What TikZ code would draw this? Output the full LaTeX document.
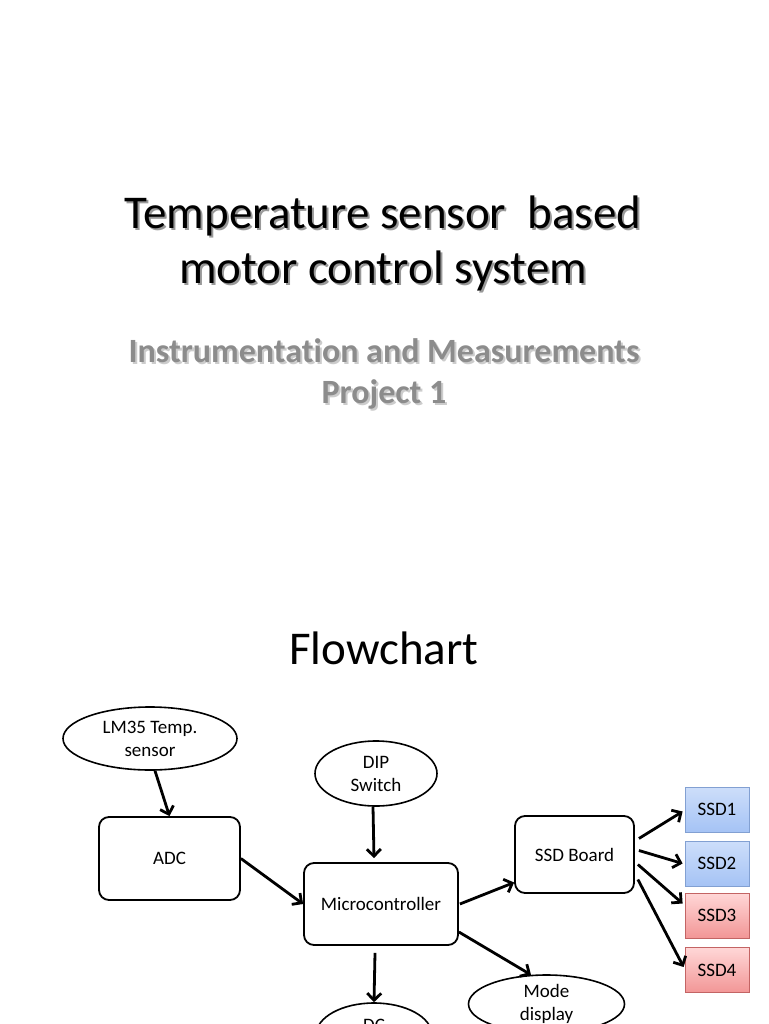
\documentclass[tikz,border=0pt]{standalone}
\usepackage{fontspec}
\setmainfont{Carlito}[Ligatures={NoCommon}]
\usetikzlibrary{arrows.meta,shapes.geometric}
\definecolor{subgray}{RGB}{140,140,140}
\definecolor{bluetop}{RGB}{205,222,250}
\definecolor{bluebot}{RGB}{165,195,245}
\definecolor{blueedge}{RGB}{130,160,210}
\definecolor{redtop}{RGB}{255,215,215}
\definecolor{redbot}{RGB}{242,150,150}
\definecolor{rededge}{RGB}{195,100,100}
\begin{document}
\begin{tikzpicture}[x=1pt,y=-1pt,
  nodefont/.style={font=\fontsize{19}{23}\selectfont},
  box/.style={draw,line width=1.8pt,rounded corners=10pt,inner sep=0pt,nodefont},
  oval/.style={ellipse,draw,line width=1.6pt,inner sep=0pt,align=center,nodefont},
  ssdblue/.style={draw=blueedge,line width=0.8pt,top color=bluetop,bottom color=bluebot,minimum width=64pt,minimum height=45pt,inner sep=0pt,nodefont},
  ssdred/.style={draw=rededge,line width=0.8pt,top color=redtop,bottom color=redbot,minimum width=64pt,minimum height=45pt,inner sep=0pt,nodefont},
  flow/.style={line width=2.8pt,-{Straight Barb[length=7pt,width=14pt]}},
  titlefont/.style={font=\fontsize{47}{55}\selectfont,align=center},
  subfont/.style={font=\bfseries\fontsize{34}{41}\selectfont,align=center}
]
\useasboundingbox (0,0) rectangle (768,1024);
\clip (0,0) rectangle (768,1024);
\fill[white] (0,0) rectangle (768,1024);

% title
\node[titlefont,text=black!40] (titleshadow) at (385,245) {Temperature sensor~~based\\motor control system};
\node[titlefont] (title) at (383,243) {Temperature sensor~~based\\motor control system};
\node[subfont,text=black!20] (subshadow) at (386,376) {Instrumentation and Measurements\\Project 1};
\node[subfont,text=subgray] (sub) at (384,374) {Instrumentation and Measurements\\Project 1};
\node[font=\fontsize{47}{55}\selectfont] (flow) at (384,648) {Flowchart};

% nodes
\node[oval,minimum width=174pt,minimum height=63pt] (lm) at (150,738.5) {LM35 Temp.\\sensor};
\node[oval,minimum width=122pt,minimum height=65pt] (dip) at (376,773.5) {DIP\\Switch};
\node[box,minimum width=141pt,minimum height=83pt] (adc) at (169.5,858.5) {ADC};
\node[box,minimum width=154pt,minimum height=82pt] (mc) at (381,904) {Microcontroller};
\node[box,minimum width=119pt,minimum height=77pt] (sb) at (574.5,854.5) {SSD Board};
\node[ssdblue] (s1) at (717,809.5) {SSD1};
\node[ssdblue] (s2) at (717,863.5) {SSD2};
\node[ssdred] (s3) at (717,915.5) {SSD3};
\node[ssdred] (s4) at (717,970) {SSD4};
\node[oval,minimum width=156pt,minimum height=58pt] (mode) at (546.5,1004) {Mode\\display};
\node[oval,minimum width=116pt,minimum height=64pt,text depth=20pt] (dc) at (374,1035) {DC};

% connectors
\draw[flow] ([xshift=5pt]lm.south) -- (adc.north);
\draw[flow] ([xshift=-3pt]dip.south) -- ([xshift=-7pt,yshift=4pt]mc.north);
\draw[flow] (adc.east) -- (mc.west);
\draw[flow] ([xshift=1pt]mc.east) -- ([yshift=-28pt]sb.west);
\draw[flow] ([yshift=-28pt]mc.east) -- (mode.118);
\draw[flow] ([xshift=-6pt,yshift=-7pt]mc.south) -- (dc.north);
\draw[flow] ([xshift=4pt,yshift=16pt]sb.east) -- ([xshift=-2pt,yshift=-2pt]s1.west);
\draw[flow] ([xshift=4pt,yshift=4pt]sb.east) -- ([xshift=-2pt]s2.west);
\draw[flow] ([xshift=3pt,yshift=-10pt]sb.east) -- ([xshift=-2pt,yshift=12pt]s3.west);
\draw[flow] ([xshift=3pt,yshift=-25pt]sb.east) -- ([xshift=-1pt,yshift=3pt]s4.west);
\end{tikzpicture}
\end{document}
